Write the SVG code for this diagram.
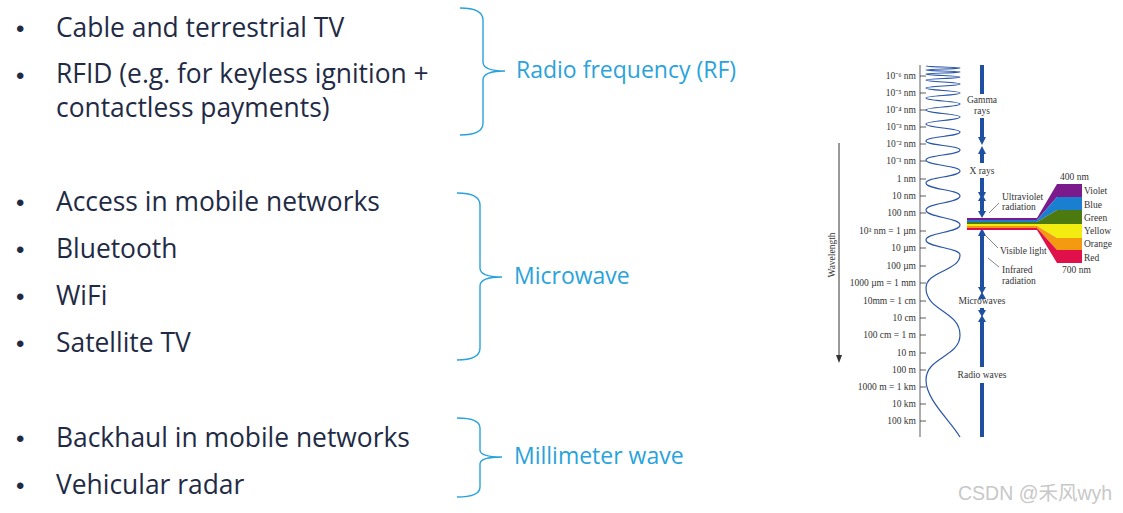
<svg xmlns="http://www.w3.org/2000/svg" width="1123" height="513" viewBox="0 0 1123 513">
<style>
.b{font-family:"Open Sans","Liberation Sans",sans-serif;font-size:26.4px;fill:#1f2b45}
.d{font-family:"Liberation Sans",sans-serif;font-size:24px;fill:#1f2b45}
.l{font-family:"Open Sans","Liberation Sans",sans-serif;font-size:23px;fill:#2aa3dc}
.br{fill:none;stroke:#2aa3dc;stroke-width:1.4}
.s{font-family:"Liberation Serif",serif;font-size:9.5px;fill:#333}
.t{stroke:#333;stroke-width:0.8}
.ax{stroke:#1f4fa0;stroke-width:4}
.ah{fill:#1f4fa0}
</style>
<rect width="1123" height="513" fill="#fff"/>
<g id="bullets">
<g class="d">
<text x="16" y="37">•</text><text x="16" y="84">•</text><text x="16" y="211">•</text><text x="16" y="258">•</text><text x="16" y="305">•</text><text x="16" y="352">•</text><text x="16" y="447">•</text><text x="16" y="494">•</text>
</g>
<g class="b">
<text x="56" y="37">Cable and terrestrial TV</text>
<text x="56" y="83">RFID (e.g. for keyless ignition +</text>
<text x="56" y="117">contactless payments)</text>
<text x="56" y="211">Access in mobile networks</text>
<text x="56" y="258">Bluetooth</text>
<text x="56" y="305">WiFi</text>
<text x="56" y="352">Satellite TV</text>
<text x="56" y="447">Backhaul in mobile networks</text>
<text x="56" y="494">Vehicular radar</text>
</g>
</g>
<g id="braces">
<path class="br" d="M460 8 Q483 8 483 20 L483 62 Q483 71 505 71 Q483 71 483 80 L483 123 Q483 135 460 135"/>
<path class="br" d="M457 193 Q480 193 480 205 L480 268 Q480 277 502 277 Q480 277 480 286 L480 348 Q480 360 457 360"/>
<path class="br" d="M457 418 Q480 418 480 428 L480 450 Q480 457 502 457 Q480 457 480 464 L480 487 Q480 497 457 497"/>
<text class="l" x="516" y="78">Radio frequency (RF)</text>
<text class="l" x="514" y="284">Microwave</text>
<text class="l" x="514" y="464">Millimeter wave</text>
</g>
<g id="spectrum">
<line class="t" x1="920" y1="65" x2="920" y2="437"/>
<g class="t">
<line x1="920" x2="926" y1="76" y2="76"/><line x1="920" x2="926" y1="93" y2="93"/><line x1="920" x2="926" y1="110" y2="110"/><line x1="920" x2="926" y1="127" y2="127"/><line x1="920" x2="926" y1="144" y2="144"/><line x1="920" x2="926" y1="161" y2="161"/><line x1="920" x2="926" y1="179" y2="179"/><line x1="920" x2="926" y1="196" y2="196"/><line x1="920" x2="926" y1="213" y2="213"/><line x1="920" x2="926" y1="231" y2="231"/><line x1="920" x2="926" y1="248" y2="248"/><line x1="920" x2="926" y1="266" y2="266"/><line x1="920" x2="926" y1="283" y2="283"/><line x1="920" x2="926" y1="301" y2="301"/><line x1="920" x2="926" y1="318" y2="318"/><line x1="920" x2="926" y1="335" y2="335"/><line x1="920" x2="926" y1="353" y2="353"/><line x1="920" x2="926" y1="370" y2="370"/><line x1="920" x2="926" y1="387" y2="387"/><line x1="920" x2="926" y1="404" y2="404"/><line x1="920" x2="926" y1="421" y2="421"/>
</g>
<g class="s" text-anchor="end">
<text x="916" y="79">10⁻⁶ nm</text><text x="916" y="96">10⁻⁵ nm</text><text x="916" y="113">10⁻⁴ nm</text><text x="916" y="130">10⁻³ nm</text><text x="916" y="147">10⁻² nm</text><text x="916" y="164">10⁻¹ nm</text><text x="916" y="182">1 nm</text><text x="916" y="199">10 nm</text><text x="916" y="216">100 nm</text><text x="916" y="234">10³ nm = 1 µm</text><text x="916" y="251">10 µm</text><text x="916" y="269">100 µm</text><text x="916" y="286">1000 µm = 1 mm</text><text x="916" y="304">10mm = 1 cm</text><text x="916" y="321">10 cm</text><text x="916" y="338">100 cm = 1 m</text><text x="916" y="356">10 m</text><text x="916" y="373">100 m</text><text x="916" y="390">1000 m = 1 km</text><text x="916" y="407">10 km</text><text x="916" y="424">100 km</text>
</g>
<path fill="none" stroke="#2a56a8" stroke-width="1.2" d="M926 66 C926 67 960 67 960 68 C960 69 926 69 926 70 C926 71 960 71 960 72 C960 73 926 73 926 74 C926 75.5 960 75.5 960 77 C960 78.5 926 78.5 926 80 C926 82 960 82 960 84 C960 86 926 86 926 88 C926 90.5 960 90.5 960 93 C960 95.5 926 95.5 926 98 C926 101 960 101 960 104 C960 107 926 107 926 110 C926 113.5 960 113.5 960 117 C960 120.5 926 120.5 926 124 C926 128 960 128 960 132 C960 136.5 926 136.5 926 141 C926 145.5 960 145.5 960 150 C960 155 926 155 926 160 C926 165.5 960 165.5 960 171 C960 177 926 177 926 183 C926 189.5 960 189.5 960 196 C960 203 926 203 926 210 C926 217.5 960 217.5 960 225 C960 232.5 926 232.5 926 240 C926 247.5 960 247.5 960 255 C960 271 926 271 926 288 C926 311 960 311 960 335 C960 357 926 357 926 380 C926 400 950 420 960 437"/>
<text x="835" y="255" transform="rotate(-90 835 255)" class="s" text-anchor="middle" font-size="9">Wavelength</text>
<line x1="839" y1="143" x2="839" y2="356" stroke="#333" stroke-width="1"/>
<path d="M836 355 L842 355 L839 363 Z" fill="#333"/>
<g class="ax">
<line x1="982" y1="65" x2="982" y2="94"/><line x1="982" y1="118" x2="982" y2="138"/><line x1="982" y1="152" x2="982" y2="163"/><line x1="982" y1="178" x2="982" y2="194"/><line x1="982" y1="198" x2="982" y2="213"/><line x1="982" y1="232" x2="982" y2="289"/><line x1="982" y1="308" x2="982" y2="311"/><line x1="982" y1="320" x2="982" y2="367"/><line x1="982" y1="383" x2="982" y2="437"/>
</g>
<g class="ah">
<path d="M978 137 L986 137 L982 145 Z"/><path d="M978 154 L986 154 L982 146 Z"/><path d="M978 192 L986 192 L982 200 Z"/><path d="M978 201 L986 201 L982 194 Z"/><path d="M978 211 L986 211 L982 218 Z"/><path d="M978 236 L986 236 L982 228 Z"/><path d="M978 287 L986 287 L982 294 Z"/><path d="M978 299 L986 299 L982 292 Z"/><path d="M978 310 L986 310 L982 317 Z"/><path d="M978 322 L986 322 L982 315 Z"/>
</g>
<g class="s" text-anchor="middle">
<text x="982" y="103">Gamma</text><text x="982" y="114">rays</text>
<text x="982" y="174">X rays</text>
<text x="982" y="304">Microwaves</text>
<text x="982" y="378">Radio waves</text>
</g>
<g class="s">
<text x="1002" y="200">Ultraviolet</text><text x="1002" y="210">radiation</text>
<text x="1000" y="254">Visible light</text>
<text x="1002" y="273">Infrared</text><text x="1002" y="284">radiation</text>
<text x="1060" y="180">400 nm</text><text x="1062" y="273">700 nm</text>
<text x="1084" y="194">Violet</text><text x="1084" y="208">Blue</text><text x="1084" y="221">Green</text><text x="1084" y="234">Yellow</text><text x="1084" y="247">Orange</text><text x="1084" y="261">Red</text>
</g>
<g stroke="#333" stroke-width="0.6"><line x1="999" y1="203" x2="989" y2="213"/><line x1="998" y1="248" x2="986" y2="236"/><line x1="999" y1="267" x2="988" y2="258"/></g>
<polygon fill="#7a1a8c" points="967,218 1037,218 1057,184 1082,184 1082,197 1057,197 1037,220 967,220"/>
<polygon fill="#1a7fd0" points="967,220 1037,220 1057,197 1082,197 1082,210 1057,210 1037,222 967,222"/>
<polygon fill="#4d7a10" points="967,222 1037,222 1057,210 1082,210 1082,224 1057,224 1037,224 967,224"/>
<polygon fill="#f2ec10" points="967,224 1037,224 1057,224 1082,224 1082,238 1057,238 1037,226 967,226"/>
<polygon fill="#f49a10" points="967,226 1037,226 1057,238 1082,238 1082,250 1057,250 1037,228 967,228"/>
<polygon fill="#e0104a" points="967,228 1037,228 1057,250 1082,250 1082,263 1057,263 1037,230 967,230"/>
</g>
<text x="958" y="500" font-family="'Liberation Sans','Noto Sans CJK SC',sans-serif" font-size="19.5" fill="#c8c8c8">CSDN @禾风wyh</text>
</svg>
